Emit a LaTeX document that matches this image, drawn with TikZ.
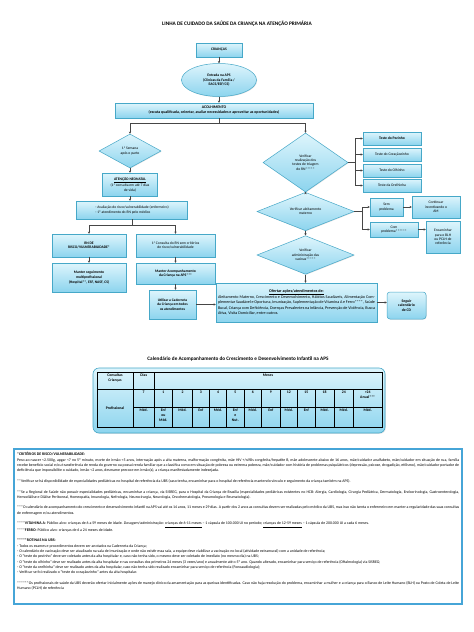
\documentclass[tikz,border=0pt]{standalone}
\usepackage{fontspec}
\setmainfont{Carlito}
\usetikzlibrary{shapes.geometric,shadows,arrows.meta}
\definecolor{bordacaixa}{RGB}{70,168,200}
\definecolor{fundoa}{RGB}{222,245,252}
\definecolor{fundob}{RGB}{140,212,238}
\definecolor{cinzaseta}{RGB}{70,70,70}
\definecolor{bordanota}{RGB}{70,165,215}
\newcommand{\tamanho}[2]{\fontsize{#1}{#2}\selectfont}
\tikzset{
  caixa/.style={draw=bordacaixa, top color=fundoa, bottom color=fundob, line width=0.5pt,
    align=center, inner sep=0.5pt, font=\tamanho{3.7}{4.4},
    drop shadow={opacity=0.25,shadow xshift=0.6pt,shadow yshift=-0.6pt}},
  losango/.style={caixa, shape=diamond, inner sep=0pt},
  ligacao/.style={-{Stealth[length=2.2pt,width=2.4pt]}, draw=cinzaseta, line width=0.6pt},
  traco/.style={draw=cinzaseta, line width=0.6pt},
  celula/.style={anchor=north, align=center, inner sep=0pt, font=\bfseries\tamanho{3.8}{4.6}},
}
\begin{document}
\begin{tikzpicture}[x=1pt,y=-1pt]
\useasboundingbox[fill=white] (0,0) rectangle (474,632);
\node[font=\bfseries\tamanho{5.3}{6}] (titulo) at (237,24) {LINHA DE CUIDADO DA SAÚDE DA CRIANÇA NA ATENÇÃO PRIMÁRIA};

% fluxo central
\node[caixa, minimum width=46pt, minimum height=14pt, font=\bfseries\tamanho{3.7}{4.4}] (criancas) at (219,50) {CRIANÇAS};
\node[caixa, ellipse, minimum width=75pt, minimum height=33pt, font=\bfseries\tamanho{3.7}{4.6}] (entrada) at (219,80) {Entrada na APS\\(Clínicas da Família /\\EACS/ESF/CS)};
\node[caixa, minimum width=198pt, minimum height=15pt, font=\bfseries\tamanho{3.9}{5}] (acolhimento) at (214,110.5) {ACOLHIMENTO\\(escuta qualificada, orientar, avaliar necessidades e aproveitar as oportunidades)};
\draw[ligacao] (criancas) -- (entrada);
\draw[ligacao] (entrada) -- (entrada |- acolhimento.north);
\coordinate (bifurca) at (219,123);
\draw[traco] (bifurca |- acolhimento.south) -- (bifurca);

% ramo da esquerda
\node[losango, minimum width=62pt, minimum height=34pt] (semana) at (130,151) {1ª Semana\\após o parto};
\node[caixa, minimum width=55pt, minimum height=23pt] (neonatal) at (130,184.5) {\textbf{\underline{ATENÇÃO NEONATAL}}\\(1ª consulta em até 7 dias\\de vida)};
\node[caixa, minimum width=111pt, minimum height=18pt, align=left] (avaliacao) at (132,210) {- Avaliação do risco/vulnerabilidade (enfermeiro)\\- 1º atendimento do RN pelo médico};
\node[caixa, minimum width=74pt, minimum height=23pt, font=\bfseries\tamanho{3.7}{4.6}] (risco) at (89,245.5) {RN DE\\RISCO/VULNERABILIDADE*};
\node[caixa, minimum width=74pt, minimum height=29pt, font=\bfseries\tamanho{3.7}{4.6}] (seguimento) at (89,277.5) {Manter seguimento\\multiprofissional\\(Hospital**, ESF, NASF, CS)};
\node[caixa, minimum width=79pt, minimum height=23pt] (semrisco) at (175.5,245.5) {1ª Consulta do RN sem critérios\\de risco/vulnerabilidade};
\node[caixa, minimum width=79pt, minimum height=21pt, font=\bfseries\tamanho{3.7}{4.6}] (acompanhamento) at (175.5,273.5) {Manter Acompanhamento\\da Criança na APS***};
\node[caixa, minimum width=47pt, minimum height=29pt, font=\bfseries\tamanho{3.6}{4.6}] (caderneta) at (172.5,304.5) {Utilizar a Caderneta\\da Criança em todos\\os atendimentos};
\draw[ligacao] (bifurca) -| (semana.north);
\draw[ligacao] (semana) -- (neonatal);
\draw[ligacao] (neonatal) -- (neonatal |- avaliacao.north);
\coordinate (bifurcb) at (132,225);
\draw[traco] (avaliacao.south) -- (bifurcb);
\draw[ligacao] (bifurcb) -| (risco.north);
\draw[ligacao] (bifurcb) -| (semrisco.north);
\draw[ligacao] (risco) -- (seguimento);
\draw[ligacao] (semrisco) -- (acompanhamento);
\draw[ligacao] (acompanhamento.south) -- (acompanhamento.south |- caderneta.north);

% ramo da direita
\node[losango, minimum width=85pt, minimum height=59pt] (triagem) at (305.5,162.5) {Verificar\\realização dos\\testes de triagem\\do RN*****};
\node[losango, minimum width=97pt, minimum height=27pt] (aleitamento) at (305.5,211.5) {Verificar aleitamento\\materno};
\node[losango, minimum width=97pt, minimum height=34pt] (vacinas) at (305.5,255) {Verificar\\administração das\\vacinas*****};
\draw[ligacao] (bifurca) -| (triagem.north);
\draw[ligacao] (triagem) -- (aleitamento);
\draw[ligacao] (aleitamento) -- (vacinas);
\foreach \nome/\y/\texto in {pezinho/138.5/\textbf{Teste do Pezinho},coracao/154.5/Teste do Coraçãozinho,olhinho/170.5/Teste do Olhinho,orelhinha/185.5/Teste da Orelhinha} {
  \node[caixa, minimum width=58pt, minimum height=13pt] (\nome) at (392,\y) {\texto};
}
\coordinate (chavetestes) at (355,162.5);
\draw[traco] (triagem.east) -- (chavetestes);
\draw[traco] (chavetestes |- pezinho) -- (chavetestes |- orelhinha);
\foreach \nome in {pezinho,coracao,olhinho,orelhinha}
  \draw[ligacao] (chavetestes |- \nome) -- (\nome.west);

\node[caixa, minimum width=33pt, minimum height=18pt] (semproblema) at (386.5,207) {Sem\\problema};
\node[caixa, minimum width=48pt, minimum height=15pt] (comproblema) at (394,229.5) {Com\\problema******};
\node[caixa, minimum width=48pt, minimum height=22pt] (continuar) at (436,207) {Continuar\\incentivando o\\AM};
\node[caixa, minimum width=34pt, minimum height=32pt] (encaminhar) at (443,237) {Encaminhar\\para o BLH\\ou PCLH de\\referência};
\coordinate (chaveam) at (362,211.5);
\draw[traco] (aleitamento.east) -- (chaveam);
\draw[traco] (chaveam |- semproblema) -- (chaveam |- comproblema);
\draw[ligacao] (chaveam |- semproblema) -- (semproblema.west);
\draw[ligacao] (chaveam |- comproblema) -- (comproblema.west);
\draw[ligacao] (semproblema) -- (continuar);
\draw[ligacao] (comproblema.east) -- (comproblema.east -| encaminhar.west);

% ofertas
\node[caixa, minimum width=161pt, minimum height=39pt, text width=157pt, align=justify, font=\tamanho{4.1}{5.6}] (ofertar) at (296.5,302.5) {\makebox[\linewidth]{\textbf{\underline{Ofertar ações/atendimentos de:}}}\par Aleitamento Materno, Crescimento e Desenvolvimento, Hábitos Saudáveis, Alimentação Complementar Saudável e Oportuna, Imunização, Suplementação de Vitamina A e Ferro****, Saúde Bucal, Criança com Deficiência, Doenças Prevalentes na Infância, Prevenção de Violência, Busca Ativa, Visita Domiciliar, entre outros.};
\node[caixa, rounded corners=3pt, minimum width=39pt, minimum height=27pt, font=\bfseries\tamanho{3.8}{4.8}] (seguir) at (406.5,305.5) {Seguir\\calendário\\de CD};
\draw[ligacao] (vacinas.south) -- (vacinas.south |- ofertar.north);
\draw[ligacao] (caderneta.east) -- (caderneta.east -| ofertar.west);
\draw[ligacao] (ofertar.east) -- (ofertar.east -| seguir.west);

% calendario
\node[font=\bfseries\tamanho{5.2}{6}] (tituloagenda) at (238,359) {Calendário de Acompanhamento do Crescimento e Desenvolvimento Infantil na APS};
\draw[draw=bordacaixa, line width=0.6pt, top color=fundoa, bottom color=fundob, rounded corners=6pt,
  drop shadow={opacity=0.2,shadow xshift=0.8pt,shadow yshift=-0.8pt}] (93,368) rectangle (385,433);
\draw[line width=0.6pt] (97,372) rectangle (382,427);
\draw[line width=0.5pt] (97,389) -- (382,389);
\draw[line width=0.5pt] (133.3,407) -- (382,407);
\draw[line width=0.5pt] (133.3,372) -- (133.3,427);
\draw[line width=0.5pt] (154,372) -- (154,427);
\foreach \x in {172.7,192.3,209.3,226.7,244,261.7,280,297.7,315,334.3,353.3}
  \draw[line width=0.5pt] (\x,389) -- (\x,427);
\node[celula] (consultas) at (115,374) {Consultas\\Crianças};
\node[celula] (dias) at (143.7,374) {Dias};
\node[celula] (meses) at (268,374) {Meses};
\node[celula, anchor=center] (profissional) at (115,408) {Profissional};
\foreach \esq/\dir/\idade/\prof [count=\i] in {133.3/154/7/Méd., 154/172.7/1/{Enf\\ou\\Méd.}, 172.7/192.3/2/Méd., 192.3/209.3/3/Enf, 209.3/226.7/4/Méd., 226.7/244/5/{Enf\\e\\Nut.}, 244/261.7/6/Méd., 261.7/280/9/Enf, 280/297.7/12/Méd., 297.7/315/15/Enf, 315/334.3/18/Méd., 334.3/353.3/24/Méd., 353.3/382/{>24\\Anual***}/Méd.} {
  \node[celula] (idade\i) at ({(\esq+\dir)/2},391) {\idade};
  \node[celula] (prof\i) at ({(\esq+\dir)/2},409) {\prof};
}

% notas
\draw[draw=bordanota, line width=1.2pt, fill=white] (14,449) rectangle (462,604);
\node[anchor=north west, text width=442pt, align=justify, inner sep=0pt, font=\tamanho{3.9}{5.3}] (notas) at (17,452.5) {%
\textbf{*CRITÉRIOS DE RISCO/VULNERABILIDADE:}\par
Peso ao nascer <2.500g, apgar <7 no 5º minuto, morte de irmão <5 anos, internação após a alta materna, malformação congênita, mãe HIV +/sífilis congênita/hepatite B, mãe adolescente abaixo de 16 anos, mãe/cuidador analfabeto, mãe/cuidador em situação de rua, família recebe benefício social e/ou transferência de renda do governo ou possui renda familiar que a classifica como em situação de pobreza ou extrema pobreza, mãe/cuidador com história de problemas psiquiátricos (depressão, psicose, drogadição, etilismo), mãe/cuidador portador de deficiência que impossibilite o cuidado, irmão <2 anos, desmame precoce em irmão(s), a criança manifestadamente indesejada.\par\vspace{5.3pt}
**Verificar se há disponibilidade de especialidades pediátricas no hospital de referência da UBS (caso tenha, encaminhar para o hospital de referência mantendo vínculo e seguimento da criança também na APS).\par\vspace{5.3pt}
**Se a Regional de Saúde não possuir especialidades pediátricas, encaminhar a criança, via SISREG, para o Hospital da Criança de Brasília (especialidades pediátricas existentes no HCB: Alergia, Cardiologia, Cirurgia Pediátrica, Dermatologia, Endocrinologia, Gastroenterologia, Hemodiálise e Diálise Peritoneal, Homeopatia, Imunologia, Nefrologia, Neurocirurgia, Neurologia, Oncohematologia, Pneumologia e Reumatologia).\par\vspace{5.3pt}
***O calendário de acompanhamento do crescimento e desenvolvimento infantil na APS vai até os 14 anos, 11 meses e 29 dias. A partir dos 2 anos as consultas devem ser realizadas pelo médico da UBS, mas isso não isenta o enfermeiro em manter a regularidade das suas consultas de enfermagem e/ou atendimentos.\par\vspace{5.3pt}
****\textbf{VITAMINA A}: Público alvo: crianças de 6 a 59 meses de idade. \textit{Dosagem/administração}: \underline{crianças de 6-11 meses} – 1 cápsula de 100.000 UI no período; \underline{crianças de 12-59 meses} – 1 cápsula de 200.000 UI a cada 6 meses.\par
****\textbf{FERRO}: Público alvo: crianças de 6 a 24 meses de idade.\par\vspace{5.3pt}
\textbf{*****ROTINAS NA UBS:}\par
- Todos os exames e procedimentos devem ser anotados na Caderneta da Criança;\par
- O calendário de vacinação deve ser atualizado na sala de imunização e onde não existir essa sala, a equipe deve viabilizar a vacinação no local (atividade extramural) com a unidade de referência;\par
- O “teste do pezinho” deve ser coletado antes da alta hospitalar e, caso não tenha sido, o mesmo deve ser coletado de imediato (no mesmo dia) na UBS;\par
- O “teste do olhinho” deve ser realizado antes da alta hospitalar e nas consultas dos primeiros 24 meses (3 vezes/ano) e anualmente até o 5º ano. Quando alterado, encaminhar para serviço de referência (Oftalmologia) via SISREG;\par
- O “teste da orelhinha” deve ser realizado antes da alta hospitalar, caso não tenha sido realizado encaminhar para serviço de referência (Fonoaudiologia);\par
- Verificar se foi realizado o “teste do coraçãozinho” antes da alta hospitalar.\par\vspace{5.3pt}
******Os profissionais de saúde da UBS deverão ofertar inicialmente ações de manejo clínico da amamentação para as queixas identificadas. Caso não haja resolução do problema, encaminhar a mulher e a criança para o Banco de Leite Humano (BLH) ou Posto de Coleta de Leite Humano (PCLH) de referência};
\end{tikzpicture}
\end{document}
